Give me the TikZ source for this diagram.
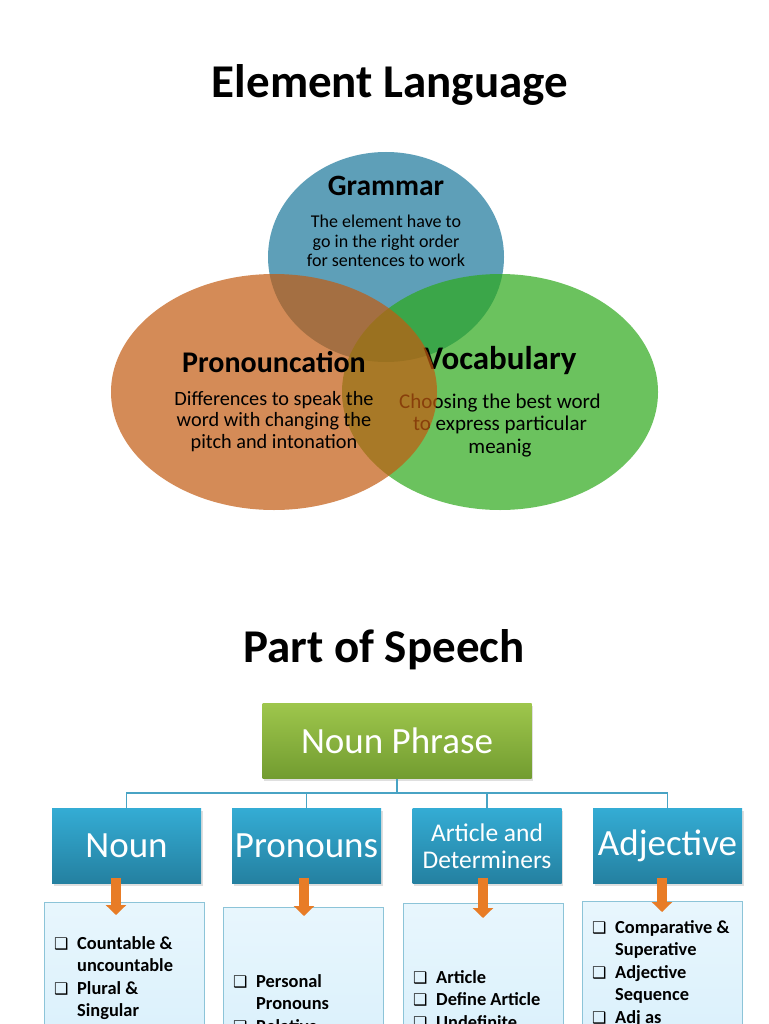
\documentclass[tikz,border=0pt]{standalone}
\usepackage{fontspec}
\setmainfont{Carlito}
\newfontfamily\dingfont{DejaVu Sans}
\usetikzlibrary{arrows.meta,shadows}
\definecolor{grammarblue}{RGB}{26,119,155}
\definecolor{vocabgreen}{RGB}{45,169,26}
\definecolor{pronorange}{RGB}{195,91,16}
\definecolor{phrasetop}{RGB}{158,198,76}
\definecolor{phrasebot}{RGB}{114,156,48}
\definecolor{partstop}{RGB}{52,172,212}
\definecolor{partsbot}{RGB}{36,128,160}
\definecolor{treeline}{RGB}{72,163,196}
\definecolor{listtop}{RGB}{232,246,253}
\definecolor{listbot}{RGB}{212,238,251}
\definecolor{listedge}{RGB}{140,196,216}
\definecolor{arroworange}{RGB}{232,124,38}
\newcommand{\bx}{\makebox[23pt][l]{\dingfont\fontsize{16}{16}\selectfont ❑}}
\newcommand{\vlines}[1]{\begin{tabular}[t]{@{}c@{}}#1\end{tabular}}
\newcommand{\blist}[1]{\begin{tabular}[t]{@{}l@{}l@{}}#1\end{tabular}}

\begin{document}
\begin{tikzpicture}[x=1pt,y=-1pt]
    \tikzstyle{every node} = [inner sep=0pt]
    \tikzstyle{heading} = [font=\fontsize{47}{47}\selectfont\bfseries, anchor=base]
    \tikzstyle{venntitle} = [font=\fontsize{30}{30}\selectfont\bfseries, anchor=base]
    \tikzstyle{venntext} = [font=\fontsize{20.3}{21.5}\selectfont, anchor=base]
    \tikzstyle{phrasebox} = [top color=phrasetop, bottom color=phrasebot, text=white,
        minimum width=269, minimum height=75, font=\fontsize{37}{37}\selectfont,
        drop shadow={opacity=0.25, shadow xshift=1.5pt, shadow yshift=-2pt}]
    \tikzstyle{partbox} = [top color=partstop, bottom color=partsbot, text=white,
        minimum width=149, minimum height=75, font=\fontsize{37}{37}\selectfont,
        drop shadow={opacity=0.25, shadow xshift=1.5pt, shadow yshift=-2pt}]
    \tikzstyle{listbox} = [top color=listtop, bottom color=listbot, draw=listedge,
        line width=1pt, minimum width=160, minimum height=200, anchor=north]
    \tikzstyle{listtext} = [font=\fontsize{18.4}{22.5}\selectfont\bfseries, anchor=base west]
    \tikzstyle{tree} = [treeline, line width=1.6pt]
    \tikzstyle{downarrow} = [arroworange, line width=10pt,
        -{Triangle[width=20pt, length=10pt]}]

    \clip (0,0) rectangle (768,1024);
    \fill[white] (0,0) rectangle (768,1024);

    \node[heading] (title1) at (390,98) {Element Language};

    % venn: blue under green under orange
    \fill[grammarblue, fill opacity=0.7] (386,257) ellipse [x radius=118, y radius=105];
    \node[venntitle, font=\fontsize{29.5}{30}\selectfont\bfseries] (grammar) at (386,196) {Grammar};
    \node[venntext, font=\fontsize{18}{19.5}\selectfont] (grammartxt) at (386,228)
        {\vlines{The element have to\\ go in the right order\\ for sentences to work}};

    \fill[vocabgreen, fill opacity=0.7] (500,392) ellipse [x radius=158, y radius=118];
    \node[venntitle, font=\fontsize{33}{33}\selectfont\bfseries] (vocab) at (500,369) {Vocabulary};
    \node[venntext, font=\fontsize{21}{22.5}\selectfont] (vocabtxt) at (500,408)
        {\vlines{Choosing the best word\\ to express particular\\ meanig}};

    \fill[pronorange, fill opacity=0.7] (274,392) ellipse [x radius=163, y radius=118];
    \node[venntitle] (pron) at (274,372) {Pronouncation};
    \node[venntext] (prontxt) at (274,405)
        {\vlines{Differences to speak the\\ word with changing the\\ pitch and intonation}};

    \node[heading] (title2) at (384,662) {Part of Speech};

    % tree
    \node[phrasebox] (phrase) at (397,741) {Noun Phrase};
    \node[partbox] (noun) at (126.5,846) {Noun};
    \node[partbox] (pronouns) at (306.5,846) {Pronouns};
    \node[partbox, font=\fontsize{25.5}{27.5}\selectfont, align=center] (article) at (487,846)
        {Article and\\ Determiners};
    \node[partbox] (adjective) at (667.5,846) {Adjective};

    \coordinate (bus) at (397,793);
    \draw[tree] (phrase.south) -- (bus);
    \draw[tree] (noun.north) |- (bus);
    \draw[tree] (pronouns.north) |- (bus);
    \draw[tree] (article.north) |- (bus);
    \draw[tree] (adjective.north) |- (bus);

    \node[listbox] (nounlist) at (124,902) {};
    \node[listbox] (pronlist) at (303,907) {};
    \node[listbox] (artlist) at (483,903) {};
    \node[listbox] (adjlist) at (662,901) {};

    \draw[downarrow] ([xshift=-10.5pt, yshift=6pt]noun.south) -- ([xshift=-8pt, yshift=-13pt]nounlist.north);
    \draw[downarrow] ([xshift=-2.5pt, yshift=6pt]pronouns.south) -- ([xshift=1pt, yshift=-9pt]pronlist.north);
    \draw[downarrow] ([xshift=-4pt, yshift=6pt]article.south) -- ([yshift=-15pt]artlist.north);
    \draw[downarrow] ([xshift=-5.5pt, yshift=6pt]adjective.south) -- ([yshift=-11pt]adjlist.north);

    \node[listtext] (nountxt) at (54,949)
        {\blist{\bx & Countable \&\\ & uncountable\\ \bx & Plural \&\\ & Singular}};
    \node[listtext] (prontxt2) at (233,987)
        {\blist{\bx & Personal\\ & Pronouns\\ \bx & Relative}};
    \node[listtext] (arttxt) at (413,983)
        {\blist{\bx & Article\\ \bx & Define Article\\ \bx & Undefinite}};
    \node[listtext] (adjtxt) at (592,933)
        {\blist{\bx & Comparative \&\\ & Superative\\ \bx & Adjective\\ & Sequence\\ \bx & Adj as}};
\end{tikzpicture}
\end{document}
